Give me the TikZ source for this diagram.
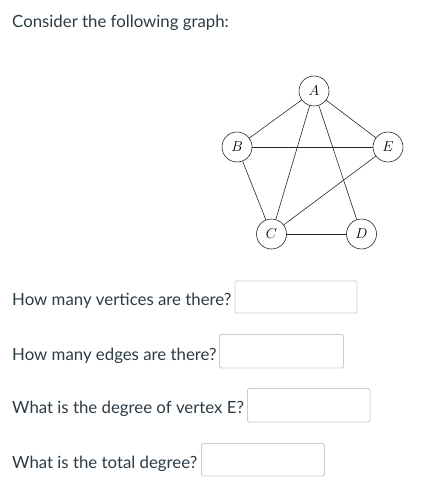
\documentclass[tikz,border=0pt]{standalone}
\usepackage{fontspec}
\setmainfont{Lato}
\begin{document}
\begin{tikzpicture}[x=1pt,y=-1pt,
  txt/.style={anchor=west,inner sep=0pt,font=\fontsize{16.8}{20}\selectfont,text=textgray},
  ansbox/.style={draw=boxgray,line width=0.8pt,rounded corners=1.5pt},
  vtx/.style={circle,draw=black!85,line width=0.6pt,minimum size=30pt,inner sep=0pt,font=\fontsize{14}{16}\selectfont},
  edge/.style={draw=black!85,line width=0.6pt}]
\definecolor{textgray}{HTML}{2D3B45}
\definecolor{boxgray}{HTML}{C7CDD1}
\useasboundingbox (0,0) rectangle (436,503);
\node[txt] (title) at (12,23) {Consider the following graph:};
% graph
\node[vtx] (A) at (314,91) {$A$};
\node[vtx] (B) at (237,147) {$B$};
\node[vtx] (E) at (388,147) {$E$};
\node[vtx] (C) at (271.5,234) {$C$};
\node[vtx] (D) at (361.5,234) {$D$};
\draw[edge] (A) -- (B);
\draw[edge] (A) -- (E);
\draw[edge] (A) -- (C);
\draw[edge] (A) -- (D);
\draw[edge] (B) -- (E);
\draw[edge] (B) -- (C);
\draw[edge] (C) -- (E);
\draw[edge] (C) -- (D);
% questions
\node[txt] (q1) at (12,301) {How many vertices are there?};
\draw[ansbox] (235,281) rectangle (357,313);
\node[txt] (q2) at (12,356) {How many edges are there?};
\draw[ansbox] (219.5,334.5) rectangle (343.5,368);
\node[txt] (q3) at (12,409) {What is the degree of vertex E?};
\draw[ansbox] (247.5,388.5) rectangle (370,422);
\node[txt] (q4) at (12,463.5) {What is the total degree?};
\draw[ansbox] (201.5,443.5) rectangle (324.5,476);
\end{tikzpicture}
\end{document}
